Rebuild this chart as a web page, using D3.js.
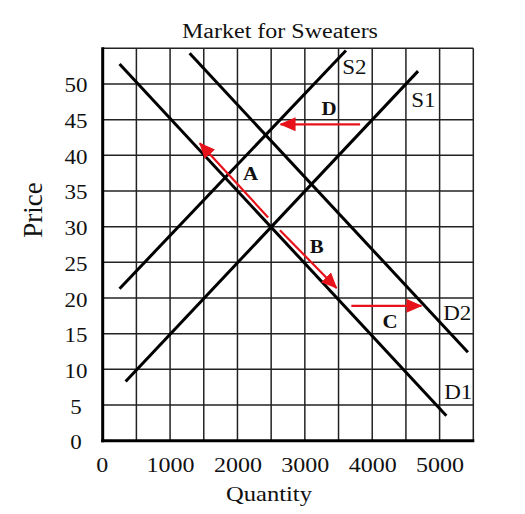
<!DOCTYPE html>
<meta charset="utf-8">
<html>
<head>
	<script src="https://d3js.org/d3.v7.min.js"></script>
	<style>
		body { margin: 0; background: #fff; }
		text { font-family: "Liberation Serif", "Times New Roman", serif; fill: #111; }
	</style>
</head>
<body>
<div id="chart"></div>
<script>

// curves, [quantity, price] endpoints
var demand1 = [[250, 52.8], [5100, 3.5]];
var demand2 = [[1290, 54.3], [5420, 12.4]];
var supply1 = [[340, 8.3], [4680, 51.8]];
var supply2 = [[250, 21.3], [3610, 54.7]];

// red shift arrows, [from, to]
var arrowA = [[2455, 31.3], [1440, 41.7]];
var arrowB = [[2630, 29.5], [3470, 21.4]];
var arrowC = [[3690, 18.9], [4730, 18.9]];
var arrowD = [[3820, 44.35], [2640, 44.35]];

var curveNames = [["S2", 3734, 52.4], ["S1", 4758, 47.75], ["D2", 5263, 17.85], ["D1", 5278, 6.87]];
var arrowNames = [["A", 2196, 37.5], ["B", 3176, 27.2], ["C", 4264, 16.7], ["D", 3359, 46.6]];

var xTicks = [0, 1000, 2000, 3000, 4000, 5000];
var yTicks = [0, 5, 10, 15, 20, 25, 30, 35, 40, 45, 50];
var xGrid = d3.range(0, 5501, 500);
var yGrid = d3.range(0, 56, 5);

var W = 525, H = 514;
var svg = d3.select("#chart").append("svg")
	.attr("width", W).attr("height", H);

var x = d3.scaleLinear().domain([0, 5500]).range([102.7, 473.3]);
var y = d3.scaleLinear().domain([0, 55]).range([440.7, 48.3]);

// the source image is stretched sideways, so widen the text the same way
function stretch(sel, k) {
	sel.each(function() {
		var w = this.getComputedTextLength();
		d3.select(this).attr("textLength", w * k).attr("lengthAdjust", "spacingAndGlyphs");
	});
}

// grid
svg.append("g").selectAll("line").data(xGrid).enter().append("line")
	.attr("x1", function(d) { return x(d); }).attr("x2", function(d) { return x(d); })
	.attr("y1", y(0)).attr("y2", y(55))
	.attr("stroke", "#222").attr("stroke-width", 1.5);
svg.append("g").selectAll("line").data(yGrid).enter().append("line")
	.attr("y1", function(d) { return y(d); }).attr("y2", function(d) { return y(d); })
	.attr("x1", x(0)).attr("x2", x(5500))
	.attr("stroke", "#222").attr("stroke-width", 1.5);

// heavy axes
svg.append("line").attr("x1", x(0)).attr("x2", x(0)).attr("y1", y(55) - 1).attr("y2", y(0) + 1.5)
	.attr("stroke", "#000").attr("stroke-width", 3);
svg.append("line").attr("x1", x(0) - 1.5).attr("x2", x(5500) + 1).attr("y1", y(0)).attr("y2", y(0))
	.attr("stroke", "#000").attr("stroke-width", 3);

// tick labels
var xAxis = svg.append("g").attr("transform", "translate(0," + (y(0) + 12) + ")")
	.call(d3.axisBottom(x).tickValues(xTicks).tickSize(0).tickFormat(d3.format("d")));
xAxis.select(".domain").remove();
xAxis.selectAll("text").attr("font-size", 20).attr("font-family", "Liberation Serif")
	.attr("fill", "#111").attr("dy", "0.8em").attr("x", function(d) { return d === 0 ? -1 : 0; });
stretch(xAxis.selectAll("text"), 1.2);

var yAxis = svg.append("g").attr("transform", "translate(76,0)")
	.call(d3.axisLeft(y).tickValues(yTicks).tickSize(0));
yAxis.select(".domain").remove();
yAxis.selectAll("text").attr("font-size", 20).attr("font-family", "Liberation Serif")
	.attr("fill", "#111").attr("text-anchor", "middle").attr("x", 0).attr("dy", "0.4em");
stretch(yAxis.selectAll("text"), 1.15);

// title and axis names
var title = svg.append("text").attr("x", 280).attr("y", 38).attr("text-anchor", "middle")
	.attr("font-size", 20).text("Market for Sweaters");
stretch(title, 1.2);
var qLab = svg.append("text").attr("x", 269).attr("y", 501).attr("text-anchor", "middle")
	.attr("font-size", 21).text("Quantity");
stretch(qLab, 1.17);
svg.append("text").attr("transform", "translate(42,210) rotate(-90)").attr("text-anchor", "middle")
	.attr("font-size", 27).text("Price");

// curves
var line = d3.line().x(function(d) { return x(d[0]); }).y(function(d) { return y(d[1]); });
[demand1, demand2, supply1, supply2].forEach(function(c) {
	svg.append("path").attr("d", line(c)).attr("fill", "none")
		.attr("stroke", "#000").attr("stroke-width", 3);
});

// arrows
var red = "#e8131a";
svg.append("defs").append("marker").attr("id", "head")
	.attr("markerUnits", "userSpaceOnUse").attr("viewBox", "0 0 16 14")
	.attr("refX", 15).attr("refY", 7).attr("markerWidth", 16).attr("markerHeight", 14)
	.attr("orient", "auto")
	.append("path").attr("d", "M0,0 L16,7 L0,14 Z").attr("fill", red);
[arrowA, arrowB, arrowC, arrowD].forEach(function(a) {
	svg.append("path").attr("d", line(a)).attr("fill", "none")
		.attr("stroke", red).attr("stroke-width", 2.2).attr("marker-end", "url(#head)");
});

// labels
var cl = svg.append("g").selectAll("text").data(curveNames).enter().append("text")
	.attr("x", function(d) { return x(d[1]); }).attr("y", function(d) { return y(d[2]); })
	.attr("dy", "0.35em").attr("text-anchor", "middle").attr("font-size", 20)
	.text(function(d) { return d[0]; });
stretch(cl, 1.15);
var al = svg.append("g").selectAll("text").data(arrowNames).enter().append("text")
	.attr("x", function(d) { return x(d[1]); }).attr("y", function(d) { return y(d[2]); })
	.attr("dy", "0.35em").attr("text-anchor", "middle").attr("font-size", 19)
	.attr("font-weight", "bold")
	.text(function(d) { return d[0]; });
stretch(al, 1.1);

</script>
</body>
</html>
